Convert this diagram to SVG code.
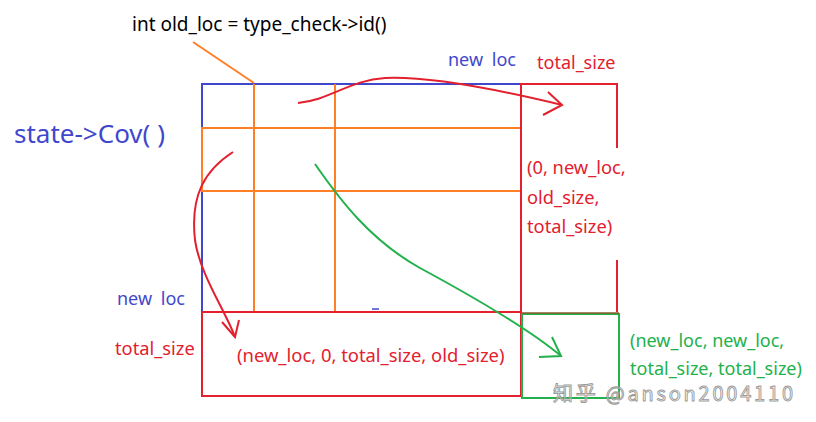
<svg xmlns="http://www.w3.org/2000/svg" width="816" height="422" viewBox="0 0 816 422">
<style>
.t{font-family:"Microsoft YaHei","Noto Sans","Open Sans","Liberation Sans",sans-serif;}
.blue{stroke:#3f48cc;fill:none;stroke-width:2}
.red{stroke:#e3202e;fill:none;stroke-width:2}
.org{stroke:#ff7f27;fill:none;stroke-width:2}
.grn{stroke:#22b14c;fill:none;stroke-width:2}
.tb{fill:#3f48cc}
.tr{fill:#e3202e}
.tg{fill:#22b14c}
</style>
<rect width="816" height="422" fill="#fff"/>
<g id="region-old">
<rect class="blue" x="202" y="84" width="319" height="228"/>
<rect class="org" x="202" y="128" width="319" height="63"/>
<line class="org" x1="254" y1="84" x2="254" y2="312"/>
<line class="org" x1="335" y1="84" x2="335" y2="312"/>
<line class="org" x1="193" y1="42" x2="254" y2="83"/>
<line x1="372" y1="309" x2="379" y2="309" stroke="#3f48cc" stroke-width="1.5"/>
</g>
<g id="region-right">
<path class="red" d="M617,148 V84 H521 V312 M617,260 V312"/>
</g>
<g id="region-bottom">
<rect class="red" x="202" y="312" width="319" height="84"/>
</g>
<g id="region-corner">
<rect class="grn" x="522" y="314" width="97" height="84"/>
<line x1="522" y1="313" x2="619" y2="313" stroke="#8a5a2a" stroke-width="1.5"/>
</g>
<g id="connectors">
<path class="red" d="M298,103 C330,100 350,80 385,78 C430,76 500,90 562,105"/>
<path class="red" d="M548,92 L562,105 L543,115"/>
<path class="red" d="M233,152 C205,170 190,195 195,240 C200,275 225,310 235,337"/>
<path class="red" d="M222,322 L235,337 L239,320"/>
<path class="grn" d="M315,164 C340,200 370,240 420,268 C470,295 530,330 561,356"/>
<path class="grn" d="M552,337 L561,356 L539,357"/>
</g>
<g id="labels" class="t">
<text x="132" y="31" font-size="19" fill="#000">int old_loc = type_check-&gt;id()</text>
<text x="448" y="66" font-size="18" class="tb" word-spacing="4">new loc</text>
<text x="537" y="69" font-size="18" class="tr">total_size</text>
<text x="14" y="143" font-size="26" class="tb">state-&gt;Cov( )</text>
<text x="527" y="174" font-size="18.3" class="tr">(0, new_loc,</text>
<text x="527" y="204" font-size="18.3" class="tr">old_size,</text>
<text x="527" y="233" font-size="18.3" class="tr">total_size)</text>
<text x="117" y="305" font-size="18" class="tb" word-spacing="4">new loc</text>
<text x="115" y="355" font-size="18.3" class="tr">total_size</text>
<text x="237" y="362" font-size="18.4" class="tr">(new_loc, 0, total_size, old_size)</text>
<text x="630" y="347" font-size="18" class="tg">(new_loc, new_loc,</text>
<text x="630" y="375" font-size="18" class="tg">total_size, total_size)</text>
<text x="553" y="401" font-size="20" textLength="240" fill="#fff" fill-opacity="0.5" stroke="#9a9a9a" stroke-width="0.9" font-family="'Noto Sans CJK SC','Noto Sans',sans-serif">知乎 @anson2004110</text>
</g>
</svg>
